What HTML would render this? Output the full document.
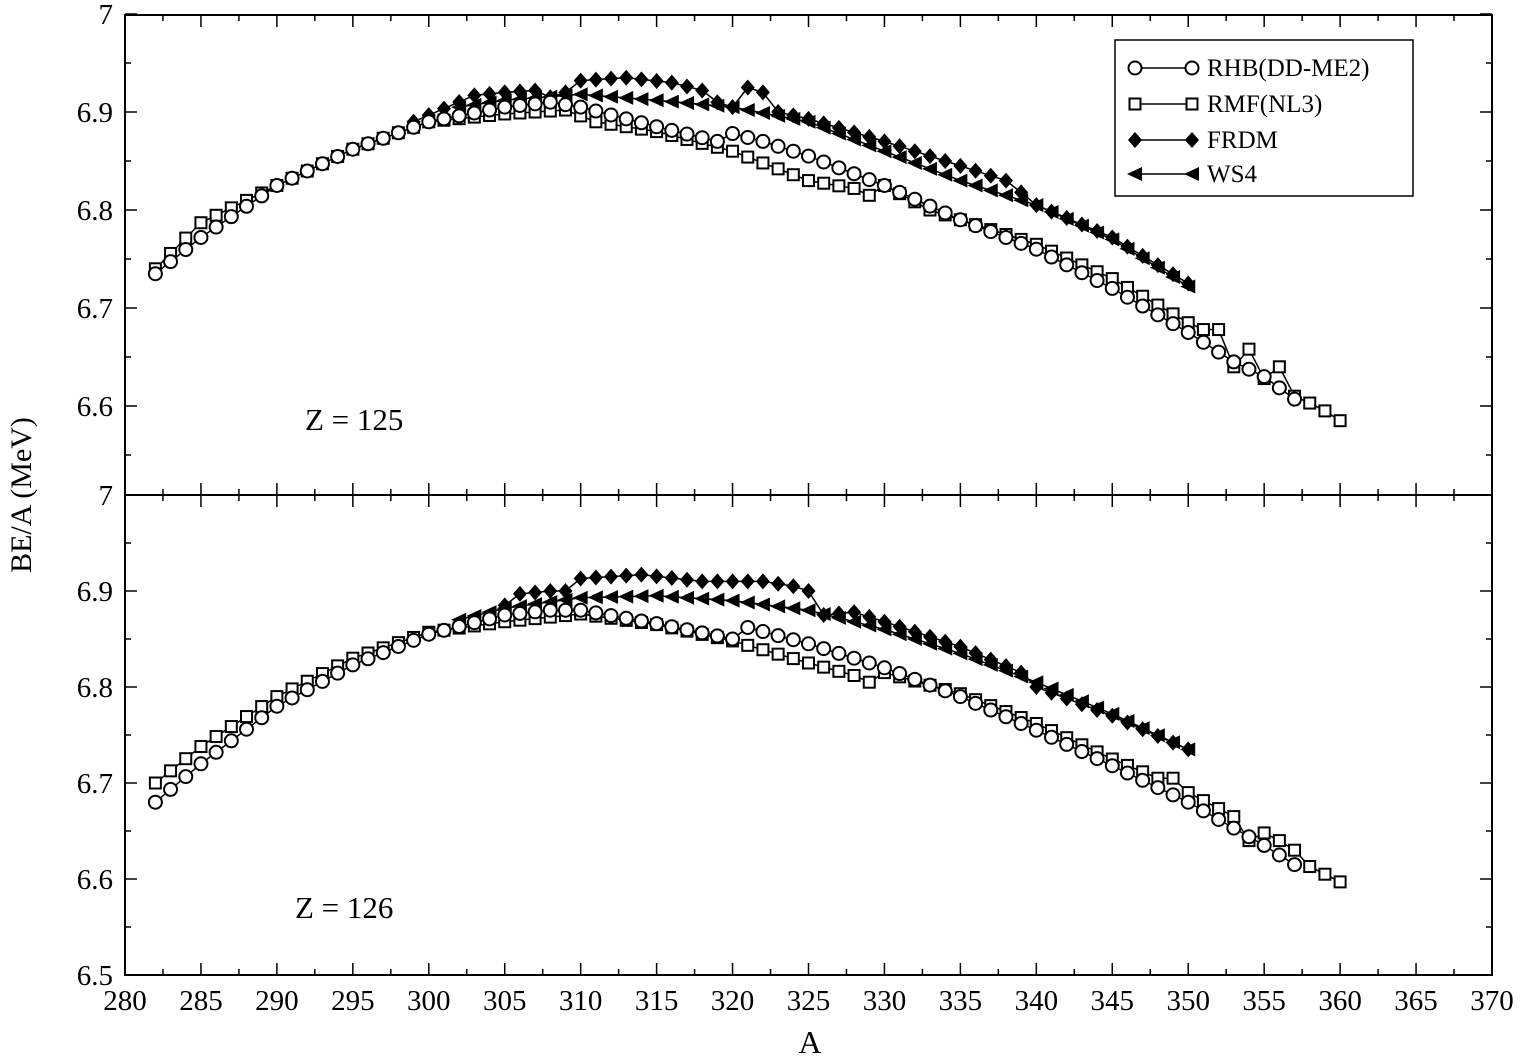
<!DOCTYPE html>
<html><head><meta charset="utf-8"><style>
html,body{margin:0;padding:0;background:#fff;}
svg{display:block;font-family:"Liberation Serif",serif;}
</style></head><body>
<svg id="s" width="1520" height="1056" xmlns="http://www.w3.org/2000/svg"></svg>
<script>
const S=document.getElementById('s');let h='';
const X0=125,X1=1492;const xp=a=>X0+(a-280)*(X1-X0)/90;
const P=[{top:15,bot:495,y7:14,s:980,min:6.5},{top:495,bot:975,y7:495,s:960,min:6.5}];
function yp(p,v){return p.y7+(7-v)*p.s;}
function interp(pts){const o=[];for(let i=0;i<pts.length-1;i++){const[a0,v0]=pts[i],[a1,v1]=pts[i+1];for(let a=a0;a<a1;a++)o.push([a,v0+(v1-v0)*(a-a0)/(a1-a0)]);}o.push(pts[pts.length-1]);return o;}
const D=[
{rhb:[[282,6.735],[285,6.772],[290,6.825],[295,6.862],[300,6.89],[305,6.905],[308,6.91],[310,6.905],[315,6.885],[319,6.87],[320,6.878],[322,6.87],[325,6.855],[330,6.825],[335,6.79],[340,6.76],[345,6.72],[350,6.675],[353,6.645],[355,6.63],[357,6.607]],
rmf:[[282,6.74],[285,6.787],[290,6.825],[295,6.862],[300,6.89],[305,6.898],[309,6.902],[311,6.89],[315,6.88],[320,6.86],[325,6.83],[328,6.822],[329,6.815],[330,6.825],[333,6.8],[335,6.79],[340,6.765],[345,6.73],[350,6.685],[351,6.678],[352,6.678],[353,6.64],[354,6.658],[355,6.628],[356,6.64],[357,6.61],[358,6.603],[359,6.595],[360,6.585]],
frdm:[[299,6.89],[303,6.917],[305,6.92],[307,6.922],[308,6.915],[309,6.92],[310,6.932],[313,6.935],[316,6.93],[318,6.922],[319,6.91],[320,6.905],[321,6.925],[322,6.92],[323,6.9],[325,6.893],[330,6.87],[335,6.845],[338,6.83],[339,6.818],[340,6.805],[345,6.772],[350,6.725]],
ws4:[[302,6.905],[305,6.912],[310,6.918],[315,6.912],[320,6.905],[325,6.89],[330,6.86],[335,6.83],[340,6.805],[345,6.77],[350,6.722]],lab:"Z = 125",ly:430,lx:305},
{rhb:[[282,6.68],[285,6.72],[290,6.78],[295,6.823],[300,6.855],[305,6.875],[308,6.88],[310,6.88],[315,6.866],[320,6.85],[321,6.862],[325,6.845],[330,6.82],[335,6.79],[340,6.755],[345,6.718],[350,6.68],[355,6.635],[357,6.615]],
rmf:[[282,6.7],[285,6.738],[290,6.79],[295,6.83],[300,6.857],[305,6.868],[310,6.876],[315,6.865],[320,6.848],[325,6.825],[328,6.812],[329,6.805],[330,6.815],[335,6.793],[340,6.762],[345,6.725],[348,6.705],[349,6.705],[350,6.69],[353,6.665],[354,6.64],[355,6.648],[356,6.64],[357,6.63],[358,6.613],[359,6.605],[360,6.597]],
frdm:[[305,6.885],[306,6.897],[308,6.9],[309,6.9],[310,6.913],[314,6.917],[318,6.91],[322,6.91],[324,6.905],[325,6.9],[326,6.875],[328,6.878],[330,6.868],[335,6.842],[339,6.815],[340,6.8],[345,6.77],[350,6.735]],
ws4:[[302,6.87],[305,6.882],[310,6.893],[315,6.895],[320,6.89],[325,6.88],[330,6.86],[335,6.835],[340,6.805],[345,6.772],[350,6.735]],lab:"Z = 126",ly:918,lx:295}];
function mk(t,x,y){if(t=='rhb')return `<circle cx="${x}" cy="${y}" r="6.5" fill="#fff" stroke="#000" stroke-width="2"/>`;
if(t=='rmf')return `<rect x="${x-5.5}" y="${y-5.5}" width="11" height="11" fill="#fff" stroke="#000" stroke-width="2"/>`;
if(t=='frdm')return `<polygon points="${x},${y-8} ${x+7},${y} ${x},${y+8} ${x-7},${y}" fill="#000"/>`;
return `<polygon points="${x-8},${y} ${x+7},${y-7} ${x+7},${y+7}" fill="#000"/>`;}
P.forEach((p,i)=>{const d=D[i];
['frdm','ws4','rmf','rhb'].forEach(k=>{const pts=interp(d[k]).map(([a,v])=>[xp(a),yp(p,v)]);
h+=`<polyline points="${pts.map(q=>q.join(',')).join(' ')}" fill="none" stroke="#000" stroke-width="1.5"/>`;
pts.forEach(q=>h+=mk(k,q[0],q[1]));});
h+=`<text x="${d.lx}" y="${d.ly}" font-size="31">${d.lab}</text>`;
for(let a=280;a<=370;a+=2.5){const x=xp(a),L=(a%5==0)?12:6;h+=`<line x1="${x}" y1="${p.bot}" x2="${x}" y2="${p.bot-L}" stroke="#000" stroke-width="1.5"/><line x1="${x}" y1="${p.top}" x2="${x}" y2="${p.top+L}" stroke="#000" stroke-width="1.5"/>`;}
for(let k=0;k<=10;k++){const v=7-k*0.05,y=yp(p,v);if(y>p.bot+1)break;const L=(k%2==0)?12:6;h+=`<line x1="${X0}" y1="${y}" x2="${X0+L}" y2="${y}" stroke="#000" stroke-width="1.5"/><line x1="${X1}" y1="${y}" x2="${X1-L}" y2="${y}" stroke="#000" stroke-width="1.5"/>`;
if(k%2==0&&!(i==0&&k==10)){h+=`<text x="113" y="${y+10}" font-size="29" text-anchor="end">${k==0?'7':v.toFixed(1)}</text>`;}}
h+=`<rect x="${X0}" y="${p.top}" width="${X1-X0}" height="${p.bot-p.top}" fill="none" stroke="#000" stroke-width="2"/>`;});
for(let a=280;a<=370;a+=5)h+=`<text x="${xp(a)}" y="1010" font-size="29" text-anchor="middle">${a}</text>`;
h+=`<text x="810" y="1053" font-size="32" text-anchor="middle">A</text>`;
h+=`<text transform="translate(31,495) rotate(-90)" font-size="30" text-anchor="middle">BE/A (MeV)</text>`;
h+=`<rect x="1115" y="40" width="298" height="156" fill="#fff" stroke="#000" stroke-width="1.5"/>`;
[['rhb','RHB(DD-ME2)',68],['rmf','RMF(NL3)',104],['frdm','FRDM',140],['ws4','WS4',174]].forEach(([k,t,y])=>{h+=`<line x1="1135" y1="${y}" x2="1192" y2="${y}" stroke="#000" stroke-width="1.5"/>`+mk(k,1135,y)+mk(k,1192,y)+`<text x="1207" y="${y+8}" font-size="25">${t}</text>`;});
S.innerHTML=h;
</script>
</body></html>
